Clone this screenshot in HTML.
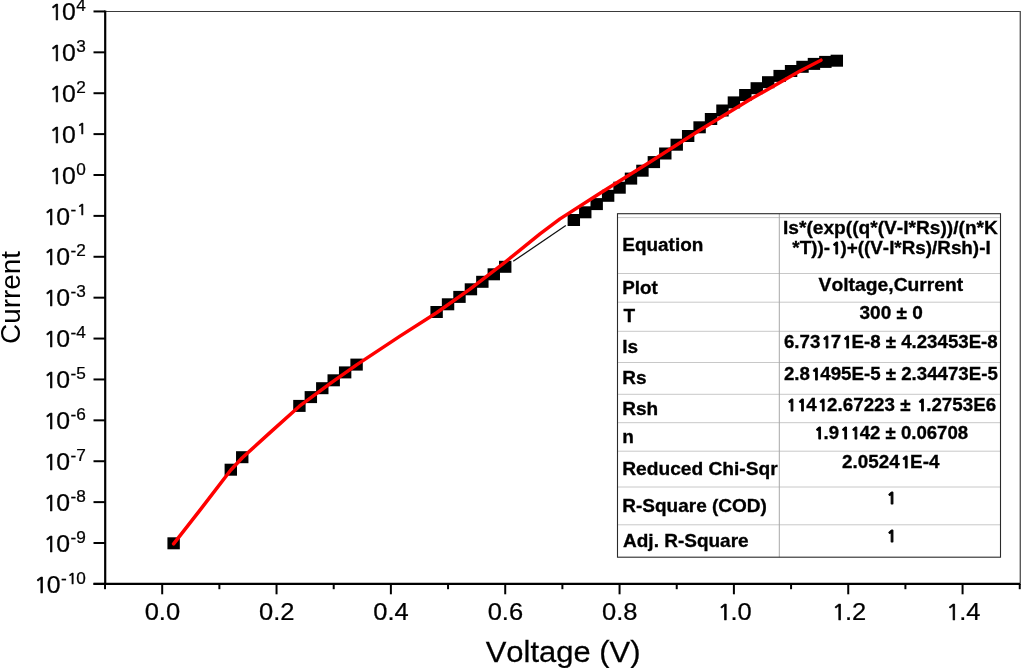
<!DOCTYPE html>
<html><head><meta charset="utf-8"><title>I-V fit</title>
<style>text{font-kerning:none}
html,body{margin:0;padding:0;background:#fff;width:1021px;height:668px;overflow:hidden;position:relative}
.t{font-family:'Liberation Sans',Arial,sans-serif;fill:#000;stroke:#000;stroke-width:0.25}
.b{font-family:'Liberation Sans',Arial,sans-serif;font-weight:bold;fill:#000;stroke:#000;stroke-width:0.3;}.one{font-family:NanumGothic,'Liberation Sans',sans-serif}
</style>
</head><body>
<svg width="1021" height="668" viewBox="0 0 1021 668" style="position:absolute;left:0;top:0">
<line x1="105" y1="11.5" x2="1021" y2="11.5" stroke="#3a3a3a" stroke-width="1"/>
<line x1="1020.3" y1="11" x2="1020.3" y2="585" stroke="#5a5a5a" stroke-width="1.4"/>
<line x1="93.5" y1="583.90" x2="105" y2="583.90" stroke="#000" stroke-width="2"/>
<line x1="93.5" y1="543.01" x2="105" y2="543.01" stroke="#000" stroke-width="2"/>
<line x1="93.5" y1="502.12" x2="105" y2="502.12" stroke="#000" stroke-width="2"/>
<line x1="93.5" y1="461.23" x2="105" y2="461.23" stroke="#000" stroke-width="2"/>
<line x1="93.5" y1="420.34" x2="105" y2="420.34" stroke="#000" stroke-width="2"/>
<line x1="93.5" y1="379.45" x2="105" y2="379.45" stroke="#000" stroke-width="2"/>
<line x1="93.5" y1="338.56" x2="105" y2="338.56" stroke="#000" stroke-width="2"/>
<line x1="93.5" y1="297.67" x2="105" y2="297.67" stroke="#000" stroke-width="2"/>
<line x1="93.5" y1="256.78" x2="105" y2="256.78" stroke="#000" stroke-width="2"/>
<line x1="93.5" y1="215.89" x2="105" y2="215.89" stroke="#000" stroke-width="2"/>
<line x1="93.5" y1="175.00" x2="105" y2="175.00" stroke="#000" stroke-width="2"/>
<line x1="93.5" y1="134.11" x2="105" y2="134.11" stroke="#000" stroke-width="2"/>
<line x1="93.5" y1="93.22" x2="105" y2="93.22" stroke="#000" stroke-width="2"/>
<line x1="93.5" y1="52.33" x2="105" y2="52.33" stroke="#000" stroke-width="2"/>
<line x1="93.5" y1="11.44" x2="105" y2="11.44" stroke="#000" stroke-width="2"/>
<line x1="105.03" y1="584" x2="105.03" y2="589.20" stroke="#000" stroke-width="2"/>
<line x1="162.20" y1="584" x2="162.20" y2="594.30" stroke="#000" stroke-width="2"/>
<line x1="219.37" y1="584" x2="219.37" y2="589.20" stroke="#000" stroke-width="2"/>
<line x1="276.54" y1="584" x2="276.54" y2="594.30" stroke="#000" stroke-width="2"/>
<line x1="333.71" y1="584" x2="333.71" y2="589.20" stroke="#000" stroke-width="2"/>
<line x1="390.88" y1="584" x2="390.88" y2="594.30" stroke="#000" stroke-width="2"/>
<line x1="448.05" y1="584" x2="448.05" y2="589.20" stroke="#000" stroke-width="2"/>
<line x1="505.22" y1="584" x2="505.22" y2="594.30" stroke="#000" stroke-width="2"/>
<line x1="562.39" y1="584" x2="562.39" y2="589.20" stroke="#000" stroke-width="2"/>
<line x1="619.56" y1="584" x2="619.56" y2="594.30" stroke="#000" stroke-width="2"/>
<line x1="676.73" y1="584" x2="676.73" y2="589.20" stroke="#000" stroke-width="2"/>
<line x1="733.90" y1="584" x2="733.90" y2="594.30" stroke="#000" stroke-width="2"/>
<line x1="791.07" y1="584" x2="791.07" y2="589.20" stroke="#000" stroke-width="2"/>
<line x1="848.24" y1="584" x2="848.24" y2="594.30" stroke="#000" stroke-width="2"/>
<line x1="905.41" y1="584" x2="905.41" y2="589.20" stroke="#000" stroke-width="2"/>
<line x1="962.58" y1="584" x2="962.58" y2="594.30" stroke="#000" stroke-width="2"/>
<line x1="1019.75" y1="584" x2="1019.75" y2="589.20" stroke="#000" stroke-width="2"/>
<line x1="105.2" y1="10.5" x2="105.2" y2="585" stroke="#000" stroke-width="2.2"/>
<line x1="93.5" y1="583.9" x2="1020" y2="583.9" stroke="#000" stroke-width="2.2"/>
<text class="t" transform="translate(162.40,620.20) scale(1.0851,1)" font-size="23.5" text-anchor="middle">0.0</text>
<text class="t" transform="translate(276.74,620.20) scale(1.0851,1)" font-size="23.5" text-anchor="middle">0.2</text>
<text class="t" transform="translate(391.08,620.20) scale(1.0851,1)" font-size="23.5" text-anchor="middle">0.4</text>
<text class="t" transform="translate(505.42,620.20) scale(1.0851,1)" font-size="23.5" text-anchor="middle">0.6</text>
<text class="t" transform="translate(619.76,620.20) scale(1.0851,1)" font-size="23.5" text-anchor="middle">0.8</text>
<text class="t" transform="translate(734.10,620.20) scale(1.0851,1)" font-size="23.5"><tspan x="-15.40" class="one" font-size="21.76" stroke-width="0.7">1</tspan><tspan x="-3.28">.0</tspan></text>
<text class="t" transform="translate(848.44,620.20) scale(1.0851,1)" font-size="23.5"><tspan x="-15.40" class="one" font-size="21.76" stroke-width="0.7">1</tspan><tspan x="-3.28">.2</tspan></text>
<text class="t" transform="translate(962.78,620.20) scale(1.0851,1)" font-size="23.5"><tspan x="-15.40" class="one" font-size="21.76" stroke-width="0.7">1</tspan><tspan x="-3.28">.4</tspan></text>
<text class="t" transform="translate(33.02,592.60) scale(1.0508,1)" font-size="23.6"><tspan x="0.94" class="one" font-size="21.85" stroke-width="0.7">1</tspan><tspan x="13.10">0</tspan></text>
<text class="t" transform="translate(61.00,583.50) scale(1.0955,1)" font-size="15.7"><tspan x="0.00">-</tspan><tspan x="5.77" class="one" font-size="14.54" stroke-width="0.7">1</tspan><tspan x="13.94">0</tspan></text>
<text class="t" transform="translate(42.58,551.71) scale(1.0508,1)" font-size="23.6"><tspan x="0.94" class="one" font-size="21.85" stroke-width="0.7">1</tspan><tspan x="13.10">0</tspan></text>
<text class="t" transform="translate(70.56,542.61) scale(1.0955,1)" font-size="15.7">-9</text>
<text class="t" transform="translate(42.58,510.82) scale(1.0508,1)" font-size="23.6"><tspan x="0.94" class="one" font-size="21.85" stroke-width="0.7">1</tspan><tspan x="13.10">0</tspan></text>
<text class="t" transform="translate(70.56,501.72) scale(1.0955,1)" font-size="15.7">-8</text>
<text class="t" transform="translate(42.58,469.93) scale(1.0508,1)" font-size="23.6"><tspan x="0.94" class="one" font-size="21.85" stroke-width="0.7">1</tspan><tspan x="13.10">0</tspan></text>
<text class="t" transform="translate(70.56,460.83) scale(1.0955,1)" font-size="15.7">-7</text>
<text class="t" transform="translate(42.58,429.04) scale(1.0508,1)" font-size="23.6"><tspan x="0.94" class="one" font-size="21.85" stroke-width="0.7">1</tspan><tspan x="13.10">0</tspan></text>
<text class="t" transform="translate(70.56,419.94) scale(1.0955,1)" font-size="15.7">-6</text>
<text class="t" transform="translate(42.58,388.15) scale(1.0508,1)" font-size="23.6"><tspan x="0.94" class="one" font-size="21.85" stroke-width="0.7">1</tspan><tspan x="13.10">0</tspan></text>
<text class="t" transform="translate(70.56,379.05) scale(1.0955,1)" font-size="15.7">-5</text>
<text class="t" transform="translate(42.58,347.26) scale(1.0508,1)" font-size="23.6"><tspan x="0.94" class="one" font-size="21.85" stroke-width="0.7">1</tspan><tspan x="13.10">0</tspan></text>
<text class="t" transform="translate(70.56,338.16) scale(1.0955,1)" font-size="15.7">-4</text>
<text class="t" transform="translate(42.58,306.37) scale(1.0508,1)" font-size="23.6"><tspan x="0.94" class="one" font-size="21.85" stroke-width="0.7">1</tspan><tspan x="13.10">0</tspan></text>
<text class="t" transform="translate(70.56,297.27) scale(1.0955,1)" font-size="15.7">-3</text>
<text class="t" transform="translate(42.58,265.48) scale(1.0508,1)" font-size="23.6"><tspan x="0.94" class="one" font-size="21.85" stroke-width="0.7">1</tspan><tspan x="13.10">0</tspan></text>
<text class="t" transform="translate(70.56,256.38) scale(1.0955,1)" font-size="15.7">-2</text>
<text class="t" transform="translate(42.58,224.59) scale(1.0508,1)" font-size="23.6"><tspan x="0.94" class="one" font-size="21.85" stroke-width="0.7">1</tspan><tspan x="13.10">0</tspan></text>
<text class="t" transform="translate(70.56,215.49) scale(1.0955,1)" font-size="15.7"><tspan x="0.00">-</tspan><tspan x="5.77" class="one" font-size="14.54" stroke-width="0.7">1</tspan></text>
<text class="t" transform="translate(48.31,183.70) scale(1.0508,1)" font-size="23.6"><tspan x="0.94" class="one" font-size="21.85" stroke-width="0.7">1</tspan><tspan x="13.10">0</tspan></text>
<text class="t" transform="translate(76.29,174.60) scale(1.0955,1)" font-size="15.7">0</text>
<text class="t" transform="translate(48.31,142.81) scale(1.0508,1)" font-size="23.6"><tspan x="0.94" class="one" font-size="21.85" stroke-width="0.7">1</tspan><tspan x="13.10">0</tspan></text>
<text class="t" transform="translate(76.29,133.71) scale(1.0955,1)" font-size="15.7"><tspan x="0.56" class="one" font-size="14.54" stroke-width="0.7">1</tspan></text>
<text class="t" transform="translate(48.31,101.92) scale(1.0508,1)" font-size="23.6"><tspan x="0.94" class="one" font-size="21.85" stroke-width="0.7">1</tspan><tspan x="13.10">0</tspan></text>
<text class="t" transform="translate(76.29,92.82) scale(1.0955,1)" font-size="15.7">2</text>
<text class="t" transform="translate(48.31,61.03) scale(1.0508,1)" font-size="23.6"><tspan x="0.94" class="one" font-size="21.85" stroke-width="0.7">1</tspan><tspan x="13.10">0</tspan></text>
<text class="t" transform="translate(76.29,51.93) scale(1.0955,1)" font-size="15.7">3</text>
<text class="t" transform="translate(48.31,20.14) scale(1.0508,1)" font-size="23.6"><tspan x="0.94" class="one" font-size="21.85" stroke-width="0.7">1</tspan><tspan x="13.10">0</tspan></text>
<text class="t" transform="translate(76.29,11.04) scale(1.0955,1)" font-size="15.7">4</text>
<text class="t" transform="translate(485.69,662.00) scale(1.0676,1)" font-size="29">Voltage (V)</text>
<text transform="translate(20.0,344.0) rotate(-90) scale(1,0.98)" font-family="'Liberation Sans', Arial, sans-serif" font-size="27.9">Current</text>
<line x1="179.69" y1="535.50" x2="224.75" y2="477.50" stroke="#111" stroke-width="1.25"/>
<line x1="250.24" y1="450.02" x2="291.41" y2="413.08" stroke="#111" stroke-width="1.25"/>
<line x1="364.58" y1="359.34" x2="428.62" y2="317.26" stroke="#111" stroke-width="1.25"/>
<line x1="513.22" y1="261.34" x2="565.82" y2="225.46" stroke="#111" stroke-width="1.25"/>
<rect x="167.43" y="537.30" width="12.4" height="12.0" fill="#000"/>
<rect x="224.60" y="463.70" width="12.4" height="12.0" fill="#000"/>
<rect x="236.04" y="451.20" width="12.4" height="12.0" fill="#000"/>
<rect x="293.21" y="399.90" width="12.4" height="12.0" fill="#000"/>
<rect x="304.64" y="391.10" width="12.4" height="12.0" fill="#000"/>
<rect x="316.08" y="382.20" width="12.4" height="12.0" fill="#000"/>
<rect x="327.51" y="374.30" width="12.4" height="12.0" fill="#000"/>
<rect x="338.94" y="366.40" width="12.4" height="12.0" fill="#000"/>
<rect x="350.38" y="358.60" width="12.4" height="12.0" fill="#000"/>
<rect x="430.42" y="306.00" width="12.4" height="12.0" fill="#000"/>
<rect x="441.85" y="298.30" width="12.4" height="12.0" fill="#000"/>
<rect x="453.28" y="290.90" width="12.4" height="12.0" fill="#000"/>
<rect x="464.72" y="283.30" width="12.4" height="12.0" fill="#000"/>
<rect x="476.15" y="275.80" width="12.4" height="12.0" fill="#000"/>
<rect x="487.59" y="268.30" width="12.4" height="12.0" fill="#000"/>
<rect x="499.02" y="260.80" width="12.4" height="12.0" fill="#000"/>
<rect x="567.62" y="214.00" width="12.4" height="12.0" fill="#000"/>
<rect x="579.06" y="206.30" width="12.4" height="12.0" fill="#000"/>
<rect x="590.49" y="198.10" width="12.4" height="12.0" fill="#000"/>
<rect x="601.93" y="189.80" width="12.4" height="12.0" fill="#000"/>
<rect x="613.36" y="181.70" width="12.4" height="12.0" fill="#000"/>
<rect x="624.79" y="172.60" width="12.4" height="12.0" fill="#000"/>
<rect x="636.23" y="164.70" width="12.4" height="12.0" fill="#000"/>
<rect x="647.66" y="156.10" width="12.4" height="12.0" fill="#000"/>
<rect x="659.10" y="147.50" width="12.4" height="12.0" fill="#000"/>
<rect x="670.53" y="138.70" width="12.4" height="12.0" fill="#000"/>
<rect x="681.96" y="130.00" width="12.4" height="12.0" fill="#000"/>
<rect x="693.40" y="121.30" width="12.4" height="12.0" fill="#000"/>
<rect x="704.83" y="113.00" width="12.4" height="12.0" fill="#000"/>
<rect x="716.27" y="104.50" width="12.4" height="12.0" fill="#000"/>
<rect x="727.70" y="96.40" width="12.4" height="12.0" fill="#000"/>
<rect x="739.13" y="89.00" width="12.4" height="12.0" fill="#000"/>
<rect x="750.57" y="82.20" width="12.4" height="12.0" fill="#000"/>
<rect x="762.00" y="76.20" width="12.4" height="12.0" fill="#000"/>
<rect x="773.44" y="69.90" width="12.4" height="12.0" fill="#000"/>
<rect x="784.87" y="65.00" width="12.4" height="12.0" fill="#000"/>
<rect x="796.30" y="60.80" width="12.4" height="12.0" fill="#000"/>
<rect x="807.74" y="57.90" width="12.4" height="12.0" fill="#000"/>
<rect x="819.17" y="55.90" width="12.4" height="12.0" fill="#000"/>
<rect x="830.61" y="54.70" width="12.4" height="12.0" fill="#000"/>
<polyline points="173.60,543.80 200.00,510.20 230.80,470.00 242.30,457.80 270.00,432.60 299.40,406.20 330.00,383.70 356.60,364.90 400.00,336.10 436.60,312.70 470.00,289.10 505.20,262.10 540.00,233.90 560.00,218.90 600.00,193.20 650.00,162.10 700.00,130.00 750.00,99.60 800.00,71.00 821.00,60.20" fill="none" stroke="#ff0000" stroke-width="3.5" stroke-linejoin="round" stroke-linecap="round"/>
<rect x="617.5" y="213.7" width="383.0" height="343.50000000000006" fill="#fff" stroke="none"/>
<line x1="617.5" y1="217.6" x2="1000.5" y2="217.6" stroke="#c8c8c8" stroke-width="1"/>
<line x1="617.5" y1="273.5" x2="1000.5" y2="273.5" stroke="#c8c8c8" stroke-width="1"/>
<line x1="617.5" y1="302.2" x2="1000.5" y2="302.2" stroke="#c8c8c8" stroke-width="1"/>
<line x1="617.5" y1="331.3" x2="1000.5" y2="331.3" stroke="#c8c8c8" stroke-width="1"/>
<line x1="617.5" y1="362.5" x2="1000.5" y2="362.5" stroke="#c8c8c8" stroke-width="1"/>
<line x1="617.5" y1="394.3" x2="1000.5" y2="394.3" stroke="#c8c8c8" stroke-width="1"/>
<line x1="617.5" y1="422.7" x2="1000.5" y2="422.7" stroke="#c8c8c8" stroke-width="1"/>
<line x1="617.5" y1="451.2" x2="1000.5" y2="451.2" stroke="#c8c8c8" stroke-width="1"/>
<line x1="617.5" y1="487.0" x2="1000.5" y2="487.0" stroke="#c8c8c8" stroke-width="1"/>
<line x1="617.5" y1="524.8" x2="1000.5" y2="524.8" stroke="#c8c8c8" stroke-width="1"/>
<line x1="779.3" y1="213.7" x2="779.3" y2="557.2" stroke="#a8a8a8" stroke-width="1"/>
<rect x="617.5" y="213.7" width="383.0" height="343.50000000000006" fill="none" stroke="#2a2a2a" stroke-width="1.1"/>
<text class="b" transform="translate(622.27,251.40) scale(1.0701,1)" font-size="17.7">Equation</text>
<text class="b" transform="translate(622.28,293.60) scale(1.0650,1)" font-size="17.7">Plot</text>
<text class="b" transform="translate(623.41,322.30) scale(1.0734,1)" font-size="17.7">T</text>
<text class="b" transform="translate(622.27,352.80) scale(1.0734,1)" font-size="17.7">Is</text>
<text class="b" transform="translate(622.27,384.00) scale(1.0734,1)" font-size="17.7">Rs</text>
<text class="b" transform="translate(622.27,414.60) scale(1.0734,1)" font-size="17.7">Rsh</text>
<text class="b" transform="translate(622.27,442.70) scale(1.0734,1)" font-size="17.7">n</text>
<text class="b" transform="translate(622.26,474.90) scale(1.0836,1)" font-size="17.7">Reduced Chi-Sqr</text>
<text class="b" transform="translate(622.27,512.00) scale(1.0740,1)" font-size="17.7">R-Square (COD)</text>
<text class="b" transform="translate(623.03,546.70) scale(1.0734,1)" font-size="17.7">Adj. R-Square</text>
<text class="b" transform="translate(782.99,234.40) scale(1.0527,1)" font-size="18.2">Is*(exp((q*(V-I*Rs))/(n*K</text>
<text class="b" transform="translate(792.37,254.30) scale(1.0357,1)" font-size="18.2"><tspan x="0.00">*T))-</tspan><tspan x="37.73" class="one" font-size="15.60" stroke-width="1.0">1</tspan><tspan x="46.46">)+((V-I*Rs)/Rsh)-I</tspan></text>
<text class="b" transform="translate(818.62,290.60) scale(1.0599,1)" font-size="18.2">Voltage,Current</text>
<text class="b" transform="translate(859.55,319.20) scale(1.0440,1)" font-size="18.2">300 ± 0</text>
<text class="b" transform="translate(783.96,348.30) scale(1.0264,1)" font-size="18.2"><tspan x="0.00">6.73</tspan><tspan x="36.79" class="one" font-size="15.60" stroke-width="1.0">1</tspan><tspan x="45.52">7</tspan><tspan x="57.03" class="one" font-size="15.60" stroke-width="1.0">1</tspan><tspan x="65.77">E-8 ± 4.23453E-8</tspan></text>
<text class="b" transform="translate(783.94,379.80) scale(1.0275,1)" font-size="18.2"><tspan x="0.00">2.8</tspan><tspan x="26.66" class="one" font-size="15.60" stroke-width="1.0">1</tspan><tspan x="35.39">495E-5 ± 2.34473E-5</tspan></text>
<text class="b" transform="translate(785.35,410.90) scale(1.0324,1)" font-size="18.2"><tspan x="1.38" class="one" font-size="15.60" stroke-width="1.0">1</tspan><tspan x="11.48" class="one" font-size="15.60" stroke-width="1.0">1</tspan><tspan x="20.22">4</tspan><tspan x="31.72" class="one" font-size="15.60" stroke-width="1.0">1</tspan><tspan x="40.45">2.67223 ± </tspan><tspan x="127.66" class="one" font-size="15.60" stroke-width="1.0">1</tspan><tspan x="136.40">.2753E6</tspan></text>
<text class="b" transform="translate(813.21,439.40) scale(1.0220,1)" font-size="18.2"><tspan x="1.38" class="one" font-size="15.60" stroke-width="1.0">1</tspan><tspan x="10.11">.9</tspan><tspan x="26.67" class="one" font-size="15.60" stroke-width="1.0">1</tspan><tspan x="36.77" class="one" font-size="15.60" stroke-width="1.0">1</tspan><tspan x="45.51">42 ± 0.06708</tspan></text>
<text class="b" transform="translate(841.99,468.20) scale(1.0357,1)" font-size="18.2"><tspan x="0.00">2.0524</tspan><tspan x="57.01" class="one" font-size="15.60" stroke-width="1.0">1</tspan><tspan x="65.74">E-4</tspan></text>
<text class="b" transform="translate(885.39,503.90) scale(1.0440,1)" font-size="18.2"><tspan x="1.38" class="one" font-size="15.60" stroke-width="1.0">1</tspan></text>
<text class="b" transform="translate(885.39,541.80) scale(1.0440,1)" font-size="18.2"><tspan x="1.38" class="one" font-size="15.60" stroke-width="1.0">1</tspan></text>
</svg>
</body></html>
